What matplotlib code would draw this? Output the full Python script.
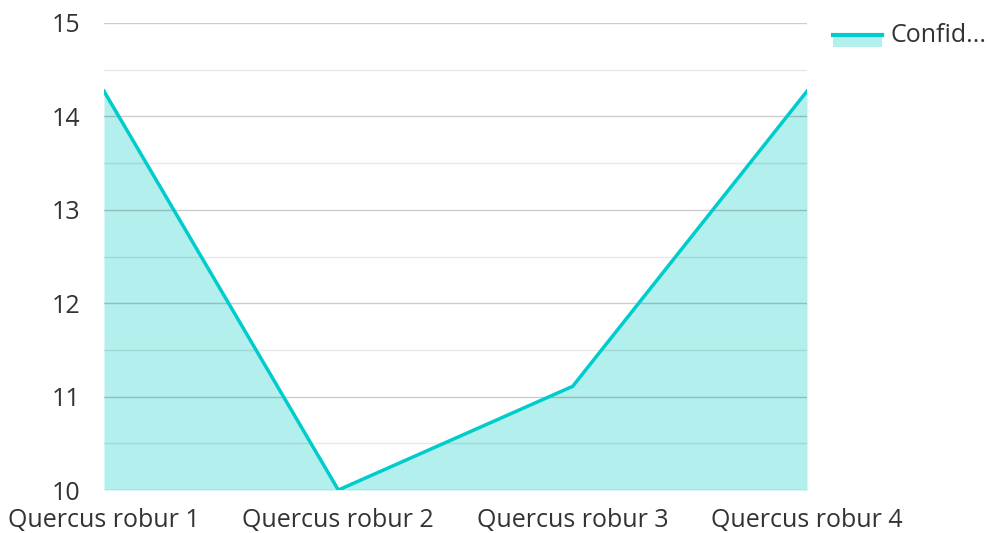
import matplotlib.pyplot as plt
from matplotlib.lines import Line2D
from matplotlib.patches import Rectangle

plt.rcParams['font.family'] = ['Open Sans', 'DejaVu Sans']

categories = ['Quercus robur 1', 'Quercus robur 2', 'Quercus robur 3', 'Quercus robur 4']
values = [14.27, 10.0, 11.11, 14.27]
series_name = 'Confid...'

line_color = '#00cccc'
fill_color = '#b2efed'
text_color = '#333333'

W, H = 989, 533
fig = plt.figure(figsize=(W / 100, H / 100), dpi=100)
ax = fig.add_axes([104 / W, 1 - 490 / H, (807 - 104) / W, (490 - 23) / H])

x = list(range(len(categories)))
ax.fill_between(x, 10, values, color=fill_color, linewidth=0, zorder=1)
ax.plot(x, values, color=line_color, linewidth=2.5, zorder=3, solid_joinstyle='miter')

ax.set_xlim(0, len(categories) - 1)
ax.set_ylim(10, 15)
ax.set_yticks(range(10, 16))
ax.set_yticks([10.5, 11.5, 12.5, 13.5, 14.5], minor=True)
ax.set_xticks(x)
ax.set_xticklabels(categories)

ax.set_axisbelow(False)
ax.grid(axis='y', which='major', color='black', alpha=0.2, linewidth=1)
ax.grid(axis='y', which='minor', color='black', alpha=0.09, linewidth=1)
ax.grid(axis='x', visible=False)

for s in ax.spines.values():
    s.set_visible(False)
ax.tick_params(axis='both', which='both', length=0, labelsize=18, labelcolor=text_color)
ax.tick_params(axis='y', pad=17)
ax.tick_params(axis='x', pad=13)

# legend drawn in figure pixels
fig.add_artist(Rectangle((833 / W, 1 - 47 / H), 49 / W, 12 / H, transform=fig.transFigure,
                         facecolor=fill_color, edgecolor='none'))
fig.add_artist(Line2D([833 / W, 882 / W], [1 - 35 / H, 1 - 35 / H], transform=fig.transFigure,
                      color=line_color, linewidth=3))
fig.text(891 / W, 1 - 36 / H, series_name, fontsize=18, color=text_color, va='center', ha='left')

fig.savefig('out.png', dpi=100)
